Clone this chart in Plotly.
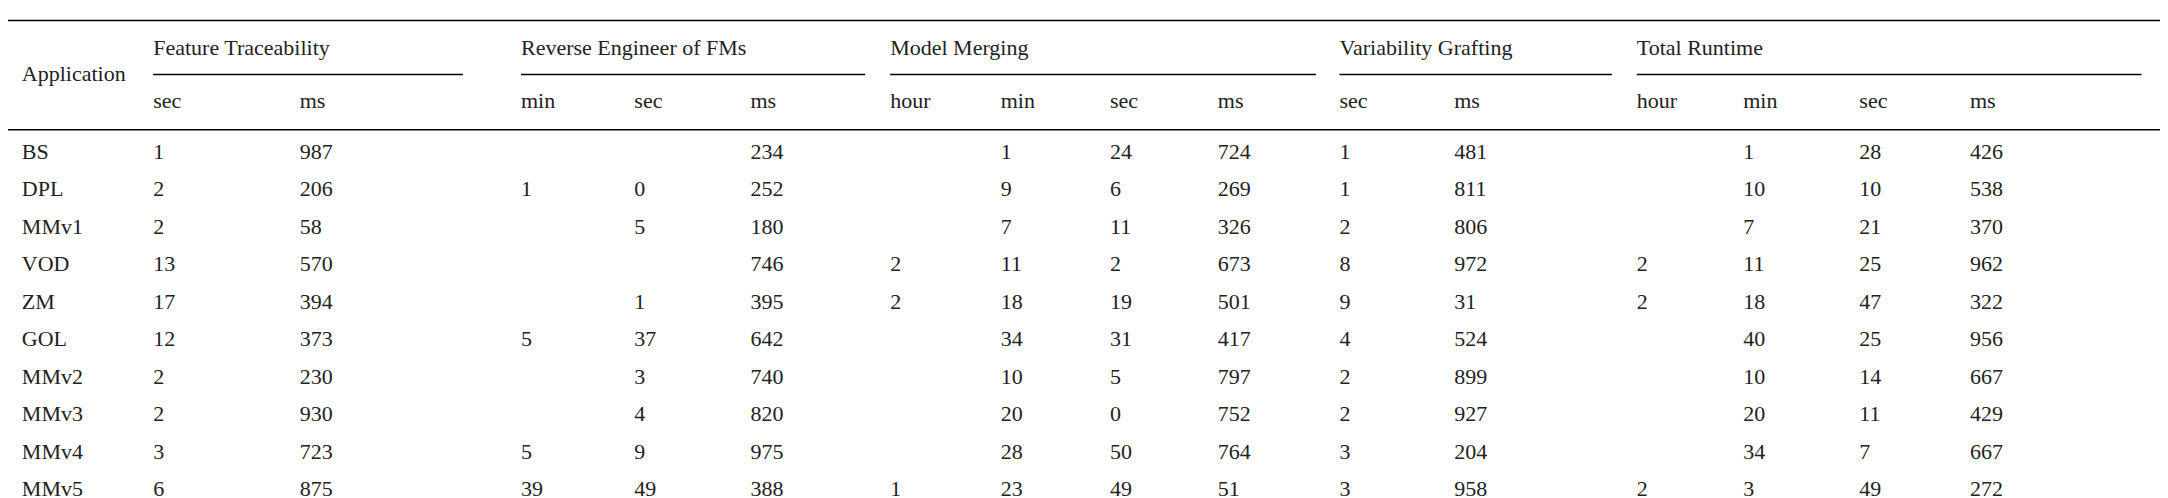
import plotly.graph_objects as go

apps = ["BS", "DPL", "MMv1", "VOD", "ZM", "GOL", "MMv2", "MMv3", "MMv4", "MMv5"]
ft_sec = [1, 2, 2, 13, 17, 12, 2, 2, 3, 6]
ft_ms = [987, 206, 58, 570, 394, 373, 230, 930, 723, 875]
re_min = ["", 1, "", "", "", 5, "", "", 5, 39]
re_sec = ["", 0, 5, "", 1, 37, 3, 4, 9, 49]
re_ms = [234, 252, 180, 746, 395, 642, 740, 820, 975, 388]
mm_hour = ["", "", "", 2, 2, "", "", "", "", 1]
mm_min = [1, 9, 7, 11, 18, 34, 10, 20, 28, 23]
mm_sec = [24, 6, 11, 2, 19, 31, 5, 0, 50, 49]
mm_ms = [724, 269, 326, 673, 501, 417, 797, 752, 764, 51]
vg_sec = [1, 1, 2, 8, 9, 4, 2, 2, 3, 3]
vg_ms = [481, 811, 806, 972, 31, 524, 899, 927, 204, 958]
tr_hour = ["", "", "", 2, 2, "", "", "", "", 2]
tr_min = [1, 10, 7, 11, 18, 40, 10, 20, 34, 3]
tr_sec = [28, 10, 21, 25, 47, 25, 14, 11, 7, 49]
tr_ms = [426, 538, 370, 962, 322, 956, 667, 429, 667, 272]

columns = [apps, ft_sec, ft_ms, re_min, re_sec, re_ms, mm_hour, mm_min, mm_sec, mm_ms,
           vg_sec, vg_ms, tr_hour, tr_min, tr_sec, tr_ms]
units = ["sec", "ms", "min", "sec", "ms", "hour", "min", "sec", "ms",
         "sec", "ms", "hour", "min", "sec", "ms"]
groups = ["Feature Traceability", "Reverse Engineer of FMs", "Model Merging",
          "Variability Grafting", "Total Runtime"]

# layout in display units (1568 x 360 canvas)
col_x = [10, 105, 211, 371, 453, 537, 638, 718, 797, 875, 963, 1046, 1178, 1255, 1339, 1419]
group_span = [(105, 329), (371, 620), (638, 946), (963, 1160), (1178, 1543)]
row_y0, row_dy = 105, 27.1

font = dict(family="Liberation Serif", size=22, color="#222")
fig = go.Figure()

xs, ys, ts = [], [], []
for c, vals in enumerate(columns):
    for r, v in enumerate(vals):
        xs.append(col_x[c]); ys.append(row_y0 + r * row_dy); ts.append(str(v))
for i, u in enumerate(units):
    xs.append(col_x[i + 1]); ys.append(68); ts.append(u)
for g, (a, b) in zip(groups, group_span):
    xs.append(a); ys.append(30); ts.append(g)
xs.append(col_x[0]); ys.append(49); ts.append("Application")

fig.add_trace(go.Scatter(x=xs, y=ys, text=ts, mode="text", textposition="middle right",
                         textfont=font, hoverinfo="skip", showlegend=False))

line = dict(color="black", width=1.5)
for y in (9, 88, 358):
    fig.add_shape(type="line", x0=0, x1=1568, y0=y, y1=y, line=line)
for a, b in group_span:
    fig.add_shape(type="line", x0=a, x1=b, y0=48, y1=48, line=line)

fig.update_xaxes(range=[0, 1568], visible=False)
fig.update_yaxes(range=[360, 0], visible=False)
fig.update_layout(width=2168, height=498, margin=dict(l=0, r=0, t=0, b=0),
                  plot_bgcolor="white", paper_bgcolor="white")
fig.write_html("out.html")
